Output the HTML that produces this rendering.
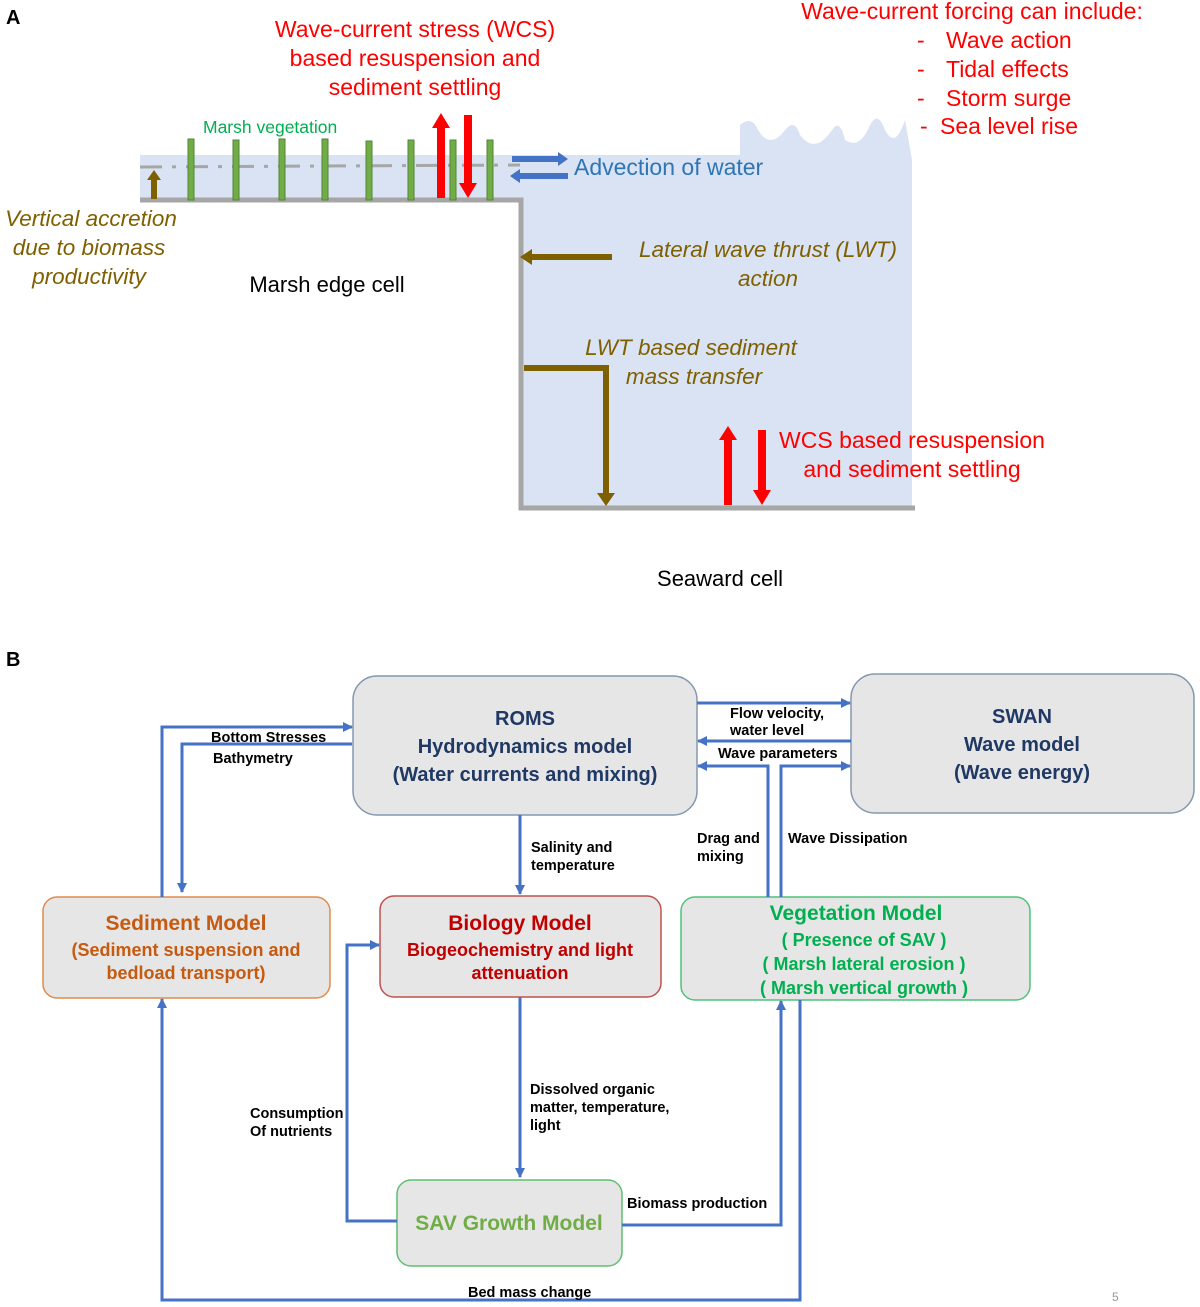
<!DOCTYPE html>
<html><head><meta charset="utf-8"><style>
html,body{margin:0;padding:0;background:#fff}
svg{display:block}
text{font-family:"Liberation Sans",Arial,sans-serif}
</style></head><body>
<svg width="1200" height="1307" viewBox="0 0 1200 1307" xmlns="http://www.w3.org/2000/svg">
<defs>
<marker id="ab" markerWidth="10" markerHeight="10" refX="9" refY="5" orient="auto" markerUnits="userSpaceOnUse"><path d="M0,0 L10,5 L0,10 z" fill="#4472c4"/></marker>
</defs>
<!-- Panel A -->
<text x="6" y="24" font-size="20" font-weight="bold">A</text>
<rect x="140" y="155" width="380" height="45" fill="#dae3f3"/>
<path d="M520,155 L740,155 L740,125 Q752,115 758,130 Q770,150 785,130 Q795,118 800,135 Q815,155 832,130 Q840,118 845,140 Q860,150 870,125 Q878,110 885,130 Q895,150 905,120 L912,160 L912,508 L520,508 Z" fill="#dae3f3"/>
<line x1="140" y1="167" x2="520" y2="165" stroke="#a6a6a6" stroke-width="3" stroke-dasharray="22,10,4,10"/>
<path d="M140,200 L521,200 L521,508 L915,508" fill="none" stroke="#a6a6a6" stroke-width="5"/>
<g fill="#70ad47" stroke="#548235" stroke-width="1">
<rect x="188" y="139" width="6" height="61"/><rect x="233" y="140" width="6" height="60"/>
<rect x="279" y="139" width="6" height="61"/><rect x="322" y="139" width="6" height="61"/>
<rect x="366" y="141" width="6" height="59"/><rect x="408" y="140" width="6" height="60"/>
<rect x="450" y="140" width="6" height="60"/><rect x="487" y="140" width="6" height="60"/>
</g>
<path d="M151,199 L151,180 L147,180 L154,170 L161,180 L157,180 L157,199 Z" fill="#7f6000"/>
<path d="M437,198 L437,128 L432,128 L441,113 L450,128 L445,128 L445,198 Z" fill="#ff0000"/>
<path d="M464,115 L464,183 L459,183 L468,198 L477,183 L472,183 L472,115 Z" fill="#ff0000"/>
<path d="M512,156 L558,156 L558,152 L568,159 L558,166 L558,162 L512,162 Z" fill="#4472c4"/>
<path d="M568,173 L520,173 L520,169 L510,176 L520,183 L520,179 L568,179 Z" fill="#4472c4"/>
<path d="M612,254 L532,254 L532,249 L520,257 L532,265 L532,260 L612,260 Z" fill="#7f6000"/>
<path d="M524,368 L606,368 L606,495" fill="none" stroke="#7f6000" stroke-width="6"/>
<path d="M597,493 L615,493 L606,506 Z" fill="#7f6000"/>
<path d="M724,505 L724,440 L719,440 L728,426 L737,440 L732,440 L732,505 Z" fill="#ff0000"/>
<path d="M758,430 L758,490 L753,490 L762,505 L771,490 L766,490 L766,430 Z" fill="#ff0000"/>
<g font-size="23" fill="#ff0000" text-anchor="middle">
<text x="415" y="37">Wave-current stress (WCS)</text>
<text x="415" y="66">based resuspension and</text>
<text x="415" y="95">sediment settling</text>
<text x="972" y="19">Wave-current forcing can include:</text>
<text x="912" y="448">WCS based resuspension</text>
<text x="912" y="477">and sediment settling</text>
</g>
<g font-size="23" fill="#ff0000">
<text x="917" y="48">-</text><text x="946" y="48">Wave action</text>
<text x="917" y="77">-</text><text x="946" y="77">Tidal effects</text>
<text x="917" y="106">-</text><text x="946" y="106">Storm surge</text>
<text x="920" y="134">-</text><text x="940" y="134">Sea level rise</text>
</g>
<text x="203" y="133" font-size="17.5" fill="#00b050">Marsh vegetation</text>
<text x="574" y="175" font-size="23" fill="#2e75b6">Advection of water</text>
<g font-size="22.5" fill="#7f6000" font-style="italic" text-anchor="middle">
<text x="91" y="226">Vertical accretion</text>
<text x="89" y="255">due to biomass</text>
<text x="89" y="284">productivity</text>
<text x="768" y="257">Lateral wave thrust (LWT)</text>
<text x="768" y="286">action</text>
<text x="691" y="355">LWT based sediment</text>
<text x="694" y="384">mass transfer</text>
</g>
<text x="327" y="292" font-size="22" text-anchor="middle">Marsh edge cell</text>
<text x="720" y="586" font-size="22" text-anchor="middle">Seaward cell</text>
<!-- Panel B -->
<text x="6" y="666" font-size="20" font-weight="bold">B</text>
<g fill="#e7e6e6" stroke-width="1.5">
<rect x="353" y="676" width="344" height="139" rx="24" stroke="#8497b0"/>
<rect x="851" y="674" width="343" height="139" rx="24" stroke="#8497b0"/>
<rect x="43" y="897" width="287" height="101" rx="14" stroke="#e08a4a"/>
<rect x="380" y="896" width="281" height="101" rx="14" stroke="#c0504d"/>
<rect x="681" y="897" width="349" height="103" rx="14" stroke="#4fc27a"/>
<rect x="397" y="1180" width="225" height="86" rx="14" stroke="#5fbf6f"/>
</g>
<g font-size="20" font-weight="bold" text-anchor="middle" fill="#1f3864">
<text x="525" y="725">ROMS</text>
<text x="525" y="753">Hydrodynamics model</text>
<text x="525" y="781">(Water currents and mixing)</text>
<text x="1022" y="723">SWAN</text>
<text x="1022" y="751">Wave model</text>
<text x="1022" y="779">(Wave energy)</text>
</g>
<g font-weight="bold" text-anchor="middle">
<text x="186" y="930" font-size="21" fill="#c55a11">Sediment Model</text>
<text x="186" y="956" font-size="18" fill="#c55a11">(Sediment suspension and</text>
<text x="186" y="979" font-size="18" fill="#c55a11">bedload transport)</text>
<text x="520" y="930" font-size="21" fill="#c00000">Biology Model</text>
<text x="520" y="956" font-size="18" fill="#c00000">Biogeochemistry  and light</text>
<text x="520" y="979" font-size="18" fill="#c00000">attenuation</text>
<text x="856" y="920" font-size="21" fill="#00b050">Vegetation Model</text>
<text x="864" y="946" font-size="18" fill="#00b050">( Presence of SAV )</text>
<text x="864" y="970" font-size="18" fill="#00b050">( Marsh lateral erosion )</text>
<text x="864" y="994" font-size="18" fill="#00b050">( Marsh vertical growth )</text>
<text x="509" y="1230" font-size="21" fill="#70ad47">SAV Growth Model</text>
</g>
<g fill="none" stroke="#4472c4" stroke-width="3" marker-end="url(#ab)">
<path d="M162,897 L162,727 L352,727"/>
<path d="M352,744 L182,744 L182,892"/>
<path d="M520,815 L520,894"/>
<path d="M697,703 L850,703"/>
<path d="M851,741 L698,741"/>
<path d="M768,897 L768,766 L698,766"/>
<path d="M781,897 L781,766 L850,766"/>
<path d="M520,997 L520,1177"/>
<path d="M397,1221 L347,1221 L347,945 L379,945"/>
<path d="M622,1225 L781,1225 L781,1001"/>
<path d="M800,1000 L800,1300 L162,1300 L162,999"/>
</g>
<g font-size="14.5" font-weight="bold" fill="#000">
<text x="211" y="742">Bottom Stresses</text>
<text x="213" y="763">Bathymetry</text>
<text x="531" y="852">Salinity and</text>
<text x="531" y="870">temperature</text>
<text x="730" y="718">Flow velocity,</text>
<text x="730" y="735">water level</text>
<text x="718" y="758">Wave parameters</text>
<text x="697" y="843">Drag and</text>
<text x="697" y="861">mixing</text>
<text x="788" y="843">Wave Dissipation</text>
<text x="530" y="1094">Dissolved organic</text>
<text x="530" y="1112">matter, temperature,</text>
<text x="530" y="1130">light</text>
<text x="250" y="1118">Consumption</text>
<text x="250" y="1136">Of nutrients</text>
<text x="627" y="1208">Biomass production</text>
<text x="468" y="1297">Bed mass change</text>
</g>
<text x="1112" y="1301" font-size="12" fill="#999">5</text>
</svg>
</body></html>
